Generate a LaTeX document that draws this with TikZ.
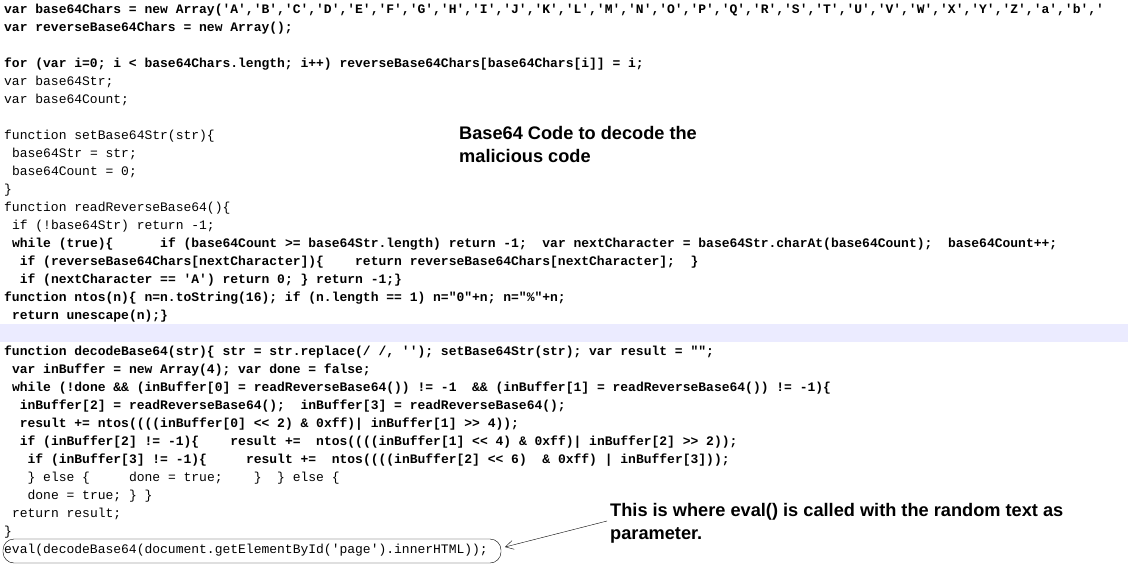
\documentclass[tikz,border=0pt]{standalone}
\usepackage{fontspec}
\usetikzlibrary{arrows.meta}
\newfontfamily\code{Liberation Mono}
\newfontfamily\lab{Liberation Sans}
\begin{document}
\begin{tikzpicture}[x=1pt,y=-1pt,
  cl/.style={anchor=base west,inner sep=0pt,font=\code\fontsize{13}{13}\selectfont},
  bl/.style={cl,font=\code\bfseries\fontsize{13}{13}\selectfont},
  note/.style={anchor=north west,align=left,inner sep=0pt,font=\lab\bfseries\fontsize{18.2}{23}\selectfont}]
\useasboundingbox (0,0) rectangle (1128,581);
\fill[white] (0,0) rectangle (1128,581);
\fill[blue!8] (0,324) rectangle (1128,342);
\node[bl] (l1) at (4,13) {var base64Chars = new Array('A','B','C','D','E','F','G','H','I','J','K','L','M','N','O','P','Q','R','S','T','U','V','W','X','Y','Z','a','b','};
\node[bl] (l2) at (4,31) {var reverseBase64Chars = new Array();};
\node[bl] (l3) at (4,67) {for (var i=0; i < base64Chars.length; i++) reverseBase64Chars[base64Chars[i]] = i;};
\node[cl] (l4) at (4,85) {var base64Str;};
\node[cl] (l5) at (4,103) {var base64Count;};
\node[cl] (l6) at (4,139) {function setBase64Str(str)\{};
\node[cl] (l7) at (4,157) {~base64Str = str;};
\node[cl] (l8) at (4,175) {~base64Count = 0;};
\node[cl] (l9) at (4,193) {\}};
\node[cl] (l10) at (4,211) {function readReverseBase64()\{};
\node[cl] (l11) at (4,229) {~if (!base64Str) return -1;};
\node[bl] (l12) at (4,247) {~while (true)\{~~~~~~if (base64Count >= base64Str.length) return -1;~~var nextCharacter = base64Str.charAt(base64Count);~~base64Count++;};
\node[bl] (l13) at (4,265) {~~if (reverseBase64Chars[nextCharacter])\{~~~~return reverseBase64Chars[nextCharacter];~~\}};
\node[bl] (l14) at (4,283) {~~if (nextCharacter == 'A') return 0; \} return -1;\}};
\node[bl] (l15) at (4,301) {function ntos(n)\{ n=n.toString(16); if (n.length == 1) n="0"+n; n="\%"+n;};
\node[bl] (l16) at (4,319) {~return unescape(n);\}};
\node[bl] (l17) at (4,355) {function decodeBase64(str)\{ str = str.replace(/ /, ''); setBase64Str(str); var result = "";};
\node[bl] (l18) at (4,373) {~var inBuffer = new Array(4); var done = false;};
\node[bl] (l19) at (4,391) {~while (!done \&\& (inBuffer[0] = readReverseBase64()) != -1~~\&\& (inBuffer[1] = readReverseBase64()) != -1)\{};
\node[bl] (l20) at (4,409) {~~inBuffer[2] = readReverseBase64();~~inBuffer[3] = readReverseBase64();};
\node[bl] (l21) at (4,427) {~~result += ntos((((inBuffer[0] << 2) \& 0xff)| inBuffer[1] >> 4));};
\node[bl] (l22) at (4,445) {~~if (inBuffer[2] != -1)\{~~~~result +=~~ntos((((inBuffer[1] << 4) \& 0xff)| inBuffer[2] >> 2));};
\node[bl] (l23) at (4,463) {~~~if (inBuffer[3] != -1)\{~~~~~result +=~~ntos((((inBuffer[2] << 6)~~\& 0xff) | inBuffer[3]));};
\node[cl] (l24) at (4,481) {~~~\} else \{~~~~~done = true;~~~~\}~~\} else \{};
\node[cl] (l25) at (4,499) {~~~done = true; \} \}};
\node[cl] (l26) at (4,517) {~return result;};
\node[cl] (l27) at (4,535) {\}};
\node[cl] (ev) at (4,553) {eval(decodeBase64(document.getElementById('page').innerHTML));};
\draw[rounded corners=11pt] (3,539) rectangle (501,563);
\coordinate (evr) at (505,547);
\node[note] (h) at (459,126) {Base64 Code to decode the\\malicious code};
\node[note] (n) at (610,503) {This is where eval() is called with the random text as\\parameter.};
\draw[-{Straight Barb[length=8pt,width=9pt]}] (607,521) -- (evr);
\end{tikzpicture}
\end{document}
